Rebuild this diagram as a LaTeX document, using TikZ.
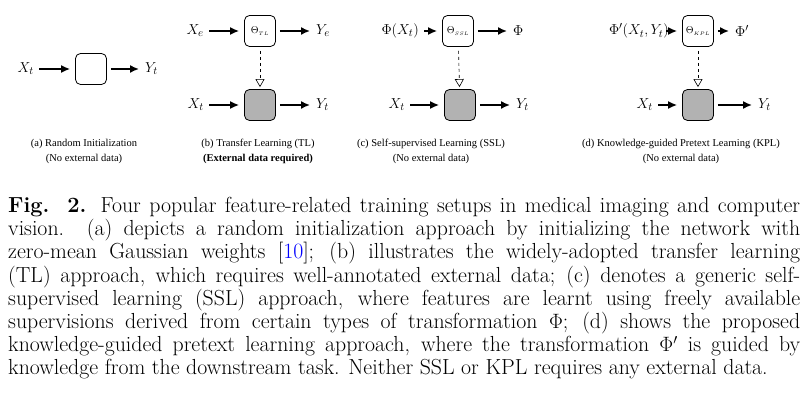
\documentclass[tikz,border=0pt]{standalone}
\usepackage{fontspec}
\newfontfamily\timesf{Liberation Serif}
\usetikzlibrary{arrows.meta}
\begin{document}
\begin{tikzpicture}[x=1pt,y=-1pt,
  wbox/.style={draw,rounded corners=5pt,minimum width=31pt,minimum height=31pt,inner sep=0pt,line width=0.8pt},
  gbox/.style={wbox,fill=gray!60},
  lab/.style={inner sep=1pt,font=\fontsize{15}{18}\selectfont},
  arr/.style={-{Latex[length=9pt,width=8pt]},line width=1.6pt,shorten >=5pt,shorten <=4pt},
  darr/.style={-{Triangle[open,length=8pt,width=9pt]},dashed,line width=0.6pt,shorten >=2pt,shorten <=4pt},
  sub/.style={font=\timesf\fontsize{10.5}{15}\selectfont,align=center}]
\useasboundingbox (0,0) rectangle (810,411);
% (a)
\node[wbox] (a1) at (91,69) {};
\node[lab,anchor=east] (ax) at (35,69) {$X_t$};
\node[lab,anchor=west] (ay) at (144,69) {$Y_t$};
\draw[arr] (ax) -- (a1); \draw[arr] (a1) -- (ay);
\node[sub] (ac) at (84,151) {(a) Random Initialization\\(No external data)};
% (b)
\node[wbox] (b1) at (260,31) {$\Theta_{\scriptscriptstyle TL}$};
\node[gbox] (b2) at (260,105) {};
\node[lab,anchor=east] (bx1) at (205,31) {$X_e$};
\node[lab,anchor=west] (by1) at (315,31) {$Y_e$};
\node[lab,anchor=east] (bx2) at (205,105) {$X_t$};
\node[lab,anchor=west] (by2) at (315,105) {$Y_t$};
\draw[arr] (bx1) -- (b1); \draw[arr] (b1) -- (by1);
\draw[arr] (bx2) -- (b2); \draw[arr] (b2) -- (by2);
\draw[darr] (b1) -- (b2);
\node[sub] (bc) at (258,151) {(b) Transfer Learning (TL)\\\textbf{(External data required)}};
% (c)
\node[wbox] (c1) at (458,31) {$\Theta_{\scriptscriptstyle SSL}$};
\node[gbox] (c2) at (460,105) {};
\node[lab,anchor=east] (cx1) at (420,31) {$\Phi(X_t)$};
\node[lab,anchor=west] (cy1) at (512,31) {$\Phi$};
\node[lab,anchor=east] (cx2) at (406,105) {$X_t$};
\node[lab,anchor=west] (cy2) at (515,105) {$Y_t$};
\draw[arr] (cx1) -- (c1); \draw[arr] (c1) -- (cy1);
\draw[arr] (cx2) -- (c2); \draw[arr] (c2) -- (cy2);
\draw[darr] (c1) -- (c2);
\node[sub] (cc) at (431,151) {(c) Self-supervised Learning (SSL)\\(No external data)};
% (d)
\node[wbox] (d1) at (698,31) {$\Theta_{\scriptscriptstyle KPL}$};
\node[gbox] (d2) at (698,105) {};
\node[lab,anchor=east] (dx1) at (670,31) {$\Phi'(X_t,Y_t)$};
\node[lab,anchor=west] (dy1) at (734,31) {$\Phi'$};
\node[lab,anchor=east] (dx2) at (654,105) {$X_t$};
\node[lab,anchor=west] (dy2) at (757,105) {$Y_t$};
\draw[arr] (dx1) -- (d1); \draw[arr] (d1) -- (dy1);
\draw[arr] (dx2) -- (d2); \draw[arr] (d2) -- (dy2);
\draw[darr] (d1) -- (d2);
\node[sub] (dc) at (681,151) {(d) Knowledge-guided Pretext Learning (KPL)\\(No external data)};
% caption
\node[anchor=north west,inner sep=0pt,text width=792pt,align=justify,font=\fontsize{21.8}{23.2}\selectfont] (cap) at (8,197)
{\textbf{Fig. 2.} Four popular feature-related training setups in medical imaging and computer\linebreak
vision. (a) depicts a random initialization approach by initializing the network with\linebreak
zero-mean Gaussian weights [\textcolor{blue}{10}]; (b) illustrates the widely-adopted transfer learning\linebreak
(TL) approach, which requires well-annotated external data; (c) denotes a generic self-\linebreak
supervised learning (SSL) approach, where features are learnt using freely available\linebreak
supervisions derived from certain types of transformation $\Phi$; (d) shows the proposed\linebreak
knowledge-guided pretext learning approach, where the transformation $\Phi'$ is guided by\linebreak
knowledge from the downstream task. Neither SSL or KPL requires any external data.};
\end{tikzpicture}
\end{document}
